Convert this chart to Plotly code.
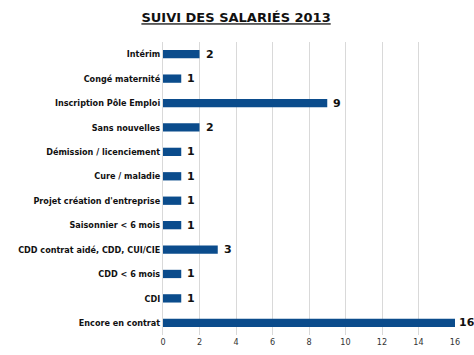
import plotly.graph_objects as go

categories = ["Intérim", "Congé maternité", "Inscription Pôle Emploi", "Sans nouvelles",
              "Démission / licenciement", "Cure / maladie", "Projet création d'entreprise",
              "Saisonnier < 6 mois", "CDD contrat aidé, CDD, CUI/CIE", "CDD < 6 mois",
              "CDI", "Encore en contrat"]
values = [2, 1, 9, 2, 1, 1, 1, 1, 3, 1, 1, 16]
x_ticks = [0, 2, 4, 6, 8, 10, 12, 14, 16]

fig = go.Figure()
fig.add_trace(go.Bar(
    x=values, y=categories, orientation="h",
    marker=dict(color="#0B4C8C", line=dict(width=0)),
    width=0.34,
))
for cat, v in zip(categories, values):
    fig.add_annotation(x=v, y=cat, text=f"<b>{v}</b>", showarrow=False,
                       xanchor="left", yanchor="middle", xshift=4 if v < 10 else 2,
                       font=dict(family="DejaVu Sans", size=11, color="#111111"))

fig.update_layout(
    width=474, height=355,
    margin=dict(l=163, r=19, t=42, b=20, autoexpand=False),
    paper_bgcolor="white", plot_bgcolor="white",
    title=dict(text="<b><u>SUIVI DES SALARIÉS 2013</u></b>", x=0.498, xanchor="center",
               y=0.95, yanchor="middle",
               font=dict(family="DejaVu Sans", size=13, color="#111111")),
    showlegend=False,
    bargap=0.66,
)
fig.update_xaxes(range=[0, 16], tickvals=x_ticks, showgrid=True, gridcolor="#D9D9D9",
                 gridwidth=1, zeroline=False, showline=False, automargin=False,
                 tickfont=dict(family="DejaVu Sans Condensed", size=9, color="#333333"))
fig.update_yaxes(autorange="reversed", showgrid=False, showline=True, linecolor="#D9D9D9",
                 ticks="", ticklen=0, automargin=False,
                 tickfont=dict(family="DejaVu Sans Condensed", size=9, color="#111111", weight="bold"))

fig.write_html("out.html", config={"displayModeBar": False},
               post_script="document.body.style.margin='0';")
